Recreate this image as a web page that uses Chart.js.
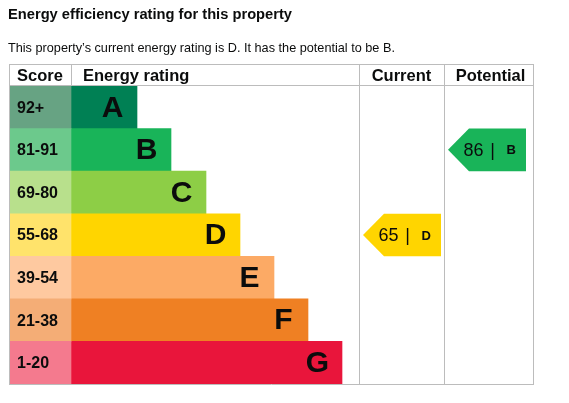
<!DOCTYPE html>
<html lang="en">
<head>
  <meta charset="UTF-8">
  <title>Energy efficiency rating for this property</title>
  <script src="https://cdn.jsdelivr.net/npm/chart.js"></script>
  <style>
    html, body {
      margin: 0;
      padding: 0;
      background: #ffffff;
    }
    .wrap {
      position: relative;
      width: 569px;
      height: 403px;
      font-family: "Liberation Sans", Arial, sans-serif;
      color: #0b0c0c;
    }
    .heading {
      position: absolute;
      left: 8px;
      top: 7px;
      margin: 0;
      font-size: 14.7px;
      font-weight: bold;
      line-height: 1;
      white-space: nowrap;
    }
    .summary {
      position: absolute;
      left: 8px;
      top: 41.7px;
      margin: 0;
      font-size: 12.7px;
      line-height: 1;
      white-space: nowrap;
    }
    canvas {
      position: absolute;
      left: 0;
      top: 0;
    }
  </style>
</head>
<body>
<div class="wrap">
  <canvas id="epcChart" width="569" height="403"></canvas>
  <h2 class="heading">Energy efficiency rating for this property</h2>
  <p class="summary">This property’s current energy rating is D. It has the potential to be B.</p>
</div>

<script>
  // rating bands, top to bottom
  const bands = ['A', 'B', 'C', 'D', 'E', 'F', 'G'];
  const scoreRanges = ['92+', '81-91', '69-80', '55-68', '39-54', '21-38', '1-20'];
  // length of each rating bar inside the "Energy rating" column
  const barLengths = [66, 100, 135, 169, 203, 237, 271];
  const currentScore = 65;
  const currentBand = 'D';
  const potentialScore = 86;
  const potentialBand = 'B';
  const headers = ['Score', 'Energy rating', 'Current', 'Potential'];

  // table columns on the x scale: score | energy rating | current | potential
  const columns = [0, 62, 350, 435, 524];

  const barColors = ['#008054', '#19b459', '#8dce46', '#ffd500', '#fcaa65', '#ef8023', '#e9153b'];
  const scoreColors = ['#67a383', '#6cc98c', '#b8e08c', '#ffe36b', '#fec9a0', '#f4ad76', '#f47a8e'];
  const FONT = '"Liberation Sans", Arial, sans-serif';
  const INK = '#0b0c0c';

  // draws the table frame, the labels and the two score arrows
  const epcTable = {
    id: 'epcTable',
    afterDatasetsDraw(chart) {
      const ctx = chart.ctx;
      const area = chart.chartArea;
      const x = chart.scales.x;
      const bars = chart.getDatasetMeta(1).data;
      const headTop = area.top - 22;
      const colX = columns.map(c => x.getPixelForValue(c));

      ctx.save();

      // frame
      ctx.strokeStyle = '#bcbcbc';
      ctx.lineWidth = 1;
      ctx.beginPath();
      ctx.moveTo(colX[0], headTop + 0.5);
      ctx.lineTo(colX[4], headTop + 0.5);
      ctx.moveTo(colX[0], area.top - 0.5);
      ctx.lineTo(colX[4], area.top - 0.5);
      ctx.moveTo(colX[0], area.bottom + 0.5);
      ctx.lineTo(colX[4] + 1, area.bottom + 0.5);
      ctx.moveTo(colX[0] + 0.5, headTop);
      ctx.lineTo(colX[0] + 0.5, area.bottom);
      ctx.moveTo(colX[1] + 0.5, headTop);
      ctx.lineTo(colX[1] + 0.5, area.top);
      [2, 3, 4].forEach(i => {
        ctx.moveTo(colX[i] + 0.5, headTop);
        ctx.lineTo(colX[i] + 0.5, area.bottom);
      });
      ctx.stroke();

      // header row
      const headMid = (headTop + area.top) / 2 + 1;
      ctx.fillStyle = INK;
      ctx.font = 'bold 16.5px ' + FONT;
      ctx.textBaseline = 'middle';
      ctx.textAlign = 'center';
      ctx.fillText(headers[0], (colX[0] + colX[1]) / 2, headMid);
      ctx.textAlign = 'left';
      ctx.fillText(headers[1], colX[1] + 12, headMid);
      ctx.textAlign = 'center';
      ctx.fillText(headers[2], (colX[2] + colX[3]) / 2, headMid);
      ctx.fillText(headers[3], (colX[3] + colX[4]) / 2 + 2, headMid);

      // score ranges and band letters
      bars.forEach((bar, i) => {
        ctx.fillStyle = INK;
        ctx.textAlign = 'left';
        ctx.font = 'bold 16px ' + FONT;
        ctx.fillText(scoreRanges[i], colX[0] + 8, bar.y + 1);
        ctx.textAlign = 'center';
        ctx.font = 'bold 30px ' + FONT;
        ctx.fillText(bands[i], bar.x - 24.5, bar.y + 1);
      });

      // arrows
      function drawArrow(left, score, band) {
        const i = bands.indexOf(band);
        const bar = bars[i];
        const top = bar.y - bar.height / 2;
        const bottom = bar.y + bar.height / 2;
        ctx.fillStyle = barColors[i];
        ctx.beginPath();
        ctx.moveTo(left + 4, bar.y);
        ctx.lineTo(left + 25, top);
        ctx.lineTo(left + 82, top);
        ctx.lineTo(left + 82, bottom);
        ctx.lineTo(left + 25, bottom);
        ctx.closePath();
        ctx.fill();

        ctx.fillStyle = INK;
        ctx.textAlign = 'left';
        ctx.font = '18px ' + FONT;
        ctx.fillText(String(score), left + 19.5, bar.y + 1);
        ctx.textAlign = 'center';
        ctx.fillText('|', left + 48.5, bar.y + 1);
        ctx.textAlign = 'left';
        ctx.font = 'bold 13px ' + FONT;
        ctx.fillText(band, left + 62.5, bar.y + 1);
      }
      drawArrow(colX[2], currentScore, currentBand);
      drawArrow(colX[3], potentialScore, potentialBand);

      ctx.restore();
    }
  };

  const ctx = document.getElementById('epcChart').getContext('2d');
  new Chart(ctx, {
    type: 'bar',
    data: {
      labels: bands,
      datasets: [{
        label: 'Score',
        data: bands.map(() => [columns[0], columns[1]]),
        backgroundColor: scoreColors,
        borderWidth: 0,
        grouped: false,
        barPercentage: 1,
        categoryPercentage: 1
      }, {
        label: 'Energy rating',
        data: barLengths.map(v => [columns[1], columns[1] + v]),
        backgroundColor: barColors,
        borderWidth: 0,
        grouped: false,
        barPercentage: 1,
        categoryPercentage: 1
      }]
    },
    options: {
      indexAxis: 'y',
      responsive: false,
      animation: false,
      layout: {
        padding: { left: 9, right: 36, top: 86, bottom: 19 }
      },
      plugins: {
        legend: { display: false },
        tooltip: { enabled: false }
      },
      scales: {
        x: { type: 'linear', min: columns[0], max: columns[4], display: false },
        y: { display: false }
      }
    },
    plugins: [epcTable]
  });
</script>
</body>
</html>
